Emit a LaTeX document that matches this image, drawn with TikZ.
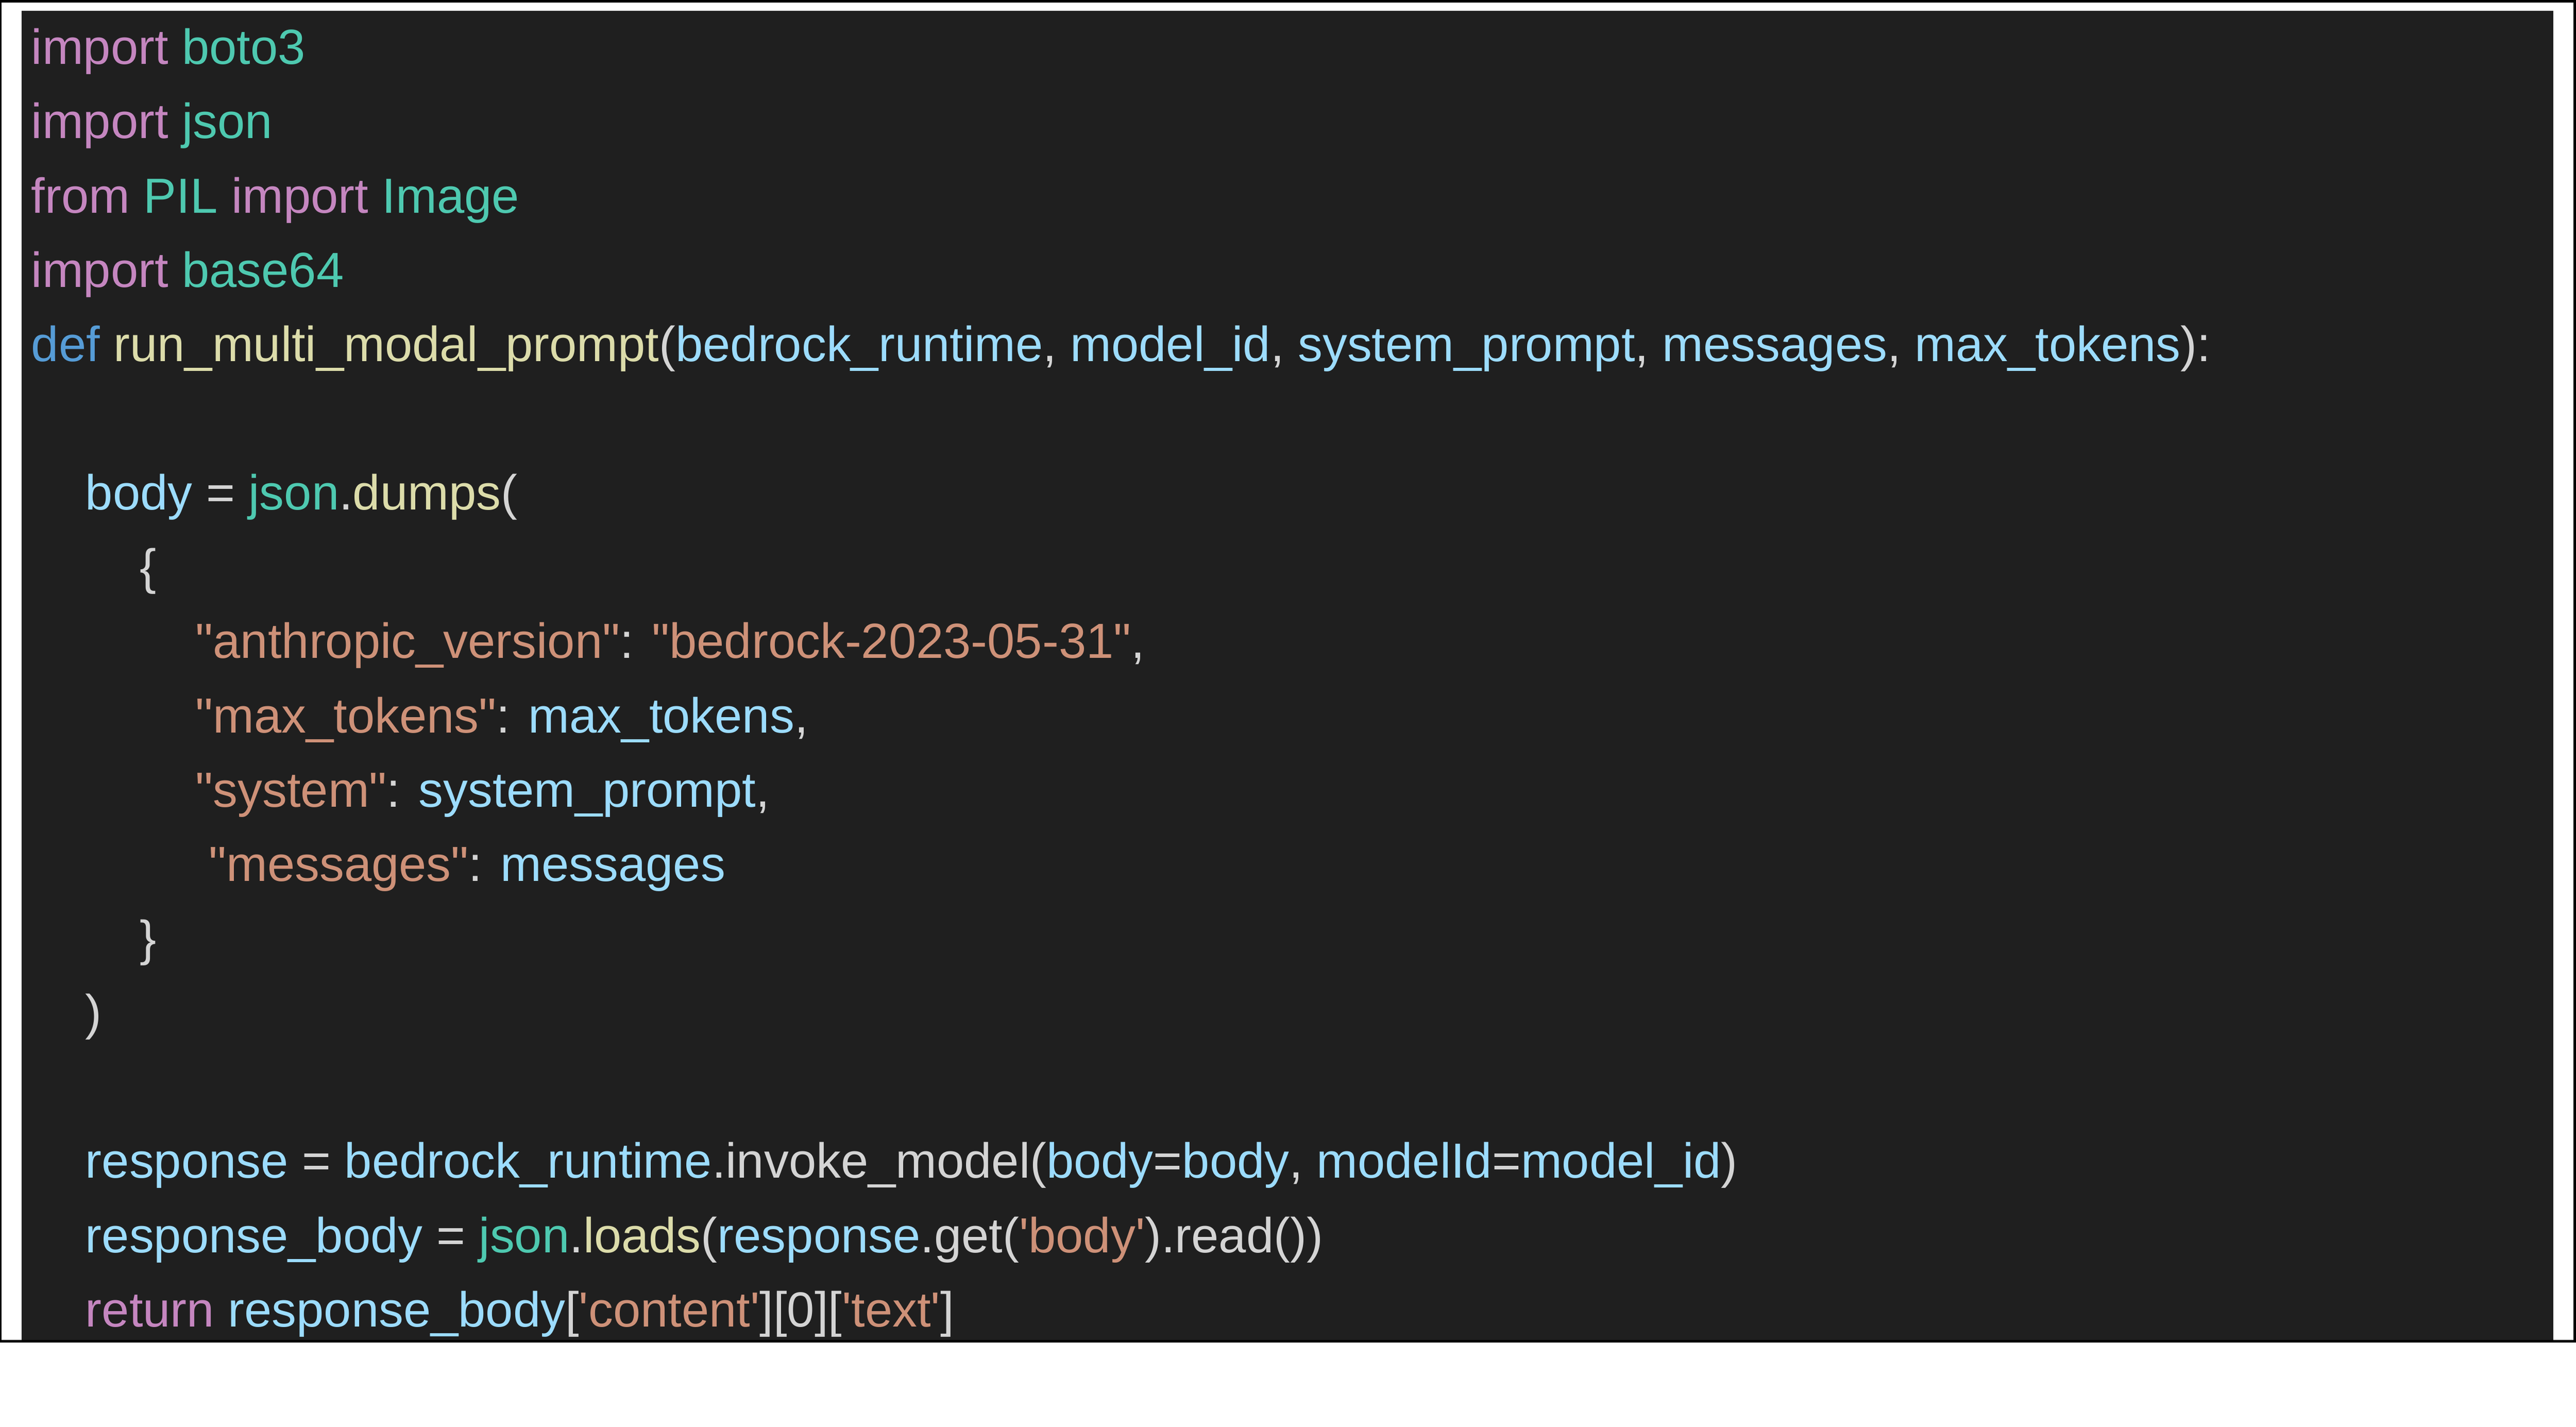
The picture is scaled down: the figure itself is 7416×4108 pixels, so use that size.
\documentclass[tikz,border=0pt]{standalone}
\usepackage{fontspec}
\newfontfamily\codefont{Liberation Sans}
\definecolor{ckwc}{HTML}{C586C0}
\definecolor{cmodc}{HTML}{4EC9B0}
\definecolor{cvarc}{HTML}{9CDCFE}
\definecolor{cfnc}{HTML}{DCDCAA}
\definecolor{cstrc}{HTML}{CE9178}
\definecolor{cdefc}{HTML}{569CD6}
\definecolor{cplc}{HTML}{D4D4D4}
\definecolor{bgc}{HTML}{1F1F1F}
\newcommand\ckw[1]{\textcolor{ckwc}{#1}}
\newcommand\cmod[1]{\textcolor{cmodc}{#1}}
\newcommand\cvar[1]{\textcolor{cvarc}{#1}}
\newcommand\cfn[1]{\textcolor{cfnc}{#1}}
\newcommand\cstr[1]{\textcolor{cstrc}{#1}}
\newcommand\cdefk[1]{\textcolor{cdefc}{#1}}
\begin{document}
\begin{tikzpicture}[x=1pt,y=-1pt,
  codeline/.style={anchor=base west,inner sep=0pt,text=cplc,font=\codefont\fontsize{142}{160}\selectfont}]
\useasboundingbox (0,0) rectangle (7416,4108);
\fill[white] (0,0) rectangle (7416,4108);
\fill[black] (0,0) rectangle (7416,3865);
\fill[white] (4,7) rectangle (7409,3858);
\fill[bgc] (62,31) rectangle (7351,3858);
\def\bl#1{\fpeval{185+213.8*#1}}
\node[codeline] (l1) at (90,\bl{0}) {\ckw{import} \cmod{boto3}};
\node[codeline] (l2) at (90,\bl{1}) {\ckw{import} \cmod{json}};
\node[codeline] (l3) at (90,\bl{2}) {\ckw{from} \cmod{PIL} \ckw{import} \cmod{Image}};
\node[codeline] (l4) at (90,\bl{3}) {\ckw{import} \cmod{base64}};
\node[codeline] (l5) at (90,\bl{4}) {\cdefk{def} \cfn{run\_multi\_modal\_prompt}(\cvar{bedrock\_runtime}, \cvar{model\_id}, \cvar{system\_prompt}, \cvar{messages}, \cvar{max\_tokens}):};
\node[codeline] (l6) at (246,\bl{6}) {\cvar{body} = \cmod{json}.\cfn{dumps}(};
\node[codeline] (l7) at (402,\bl{7}) {\{};
\node[codeline] (l8) at (563,\bl{8}) {\cstr{"anthropic\_version"}: \cstr{"bedrock-2023-05-31"},};
\node[codeline] (l9) at (563,\bl{9}) {\cstr{"max\_tokens"}: \cvar{max\_tokens},};
\node[codeline] (l10) at (563,\bl{10}) {\cstr{"system"}: \cvar{system\_prompt},};
\node[codeline] (l11) at (601,\bl{11}) {\cstr{"messages"}: \cvar{messages}};
\node[codeline] (l12) at (402,\bl{12}) {\}};
\node[codeline] (l13) at (246,\bl{13}) {)};
\node[codeline] (l14) at (246,\bl{15}) {\cvar{response} = \cvar{bedrock\_runtime}.invoke\_model(\cvar{body}=\cvar{body}, \cvar{modelId}=\cvar{model\_id})};
\node[codeline] (l15) at (246,\bl{16}) {\cvar{response\_body} = \cmod{json}.\cfn{loads}(\cvar{response}.get(\cstr{'body'}).read())};
\node[codeline] (l16) at (246,\bl{17}) {\ckw{return} \cvar{response\_body}[\cstr{'content'}][0][\cstr{'text'}]};
\end{tikzpicture}
\end{document}
